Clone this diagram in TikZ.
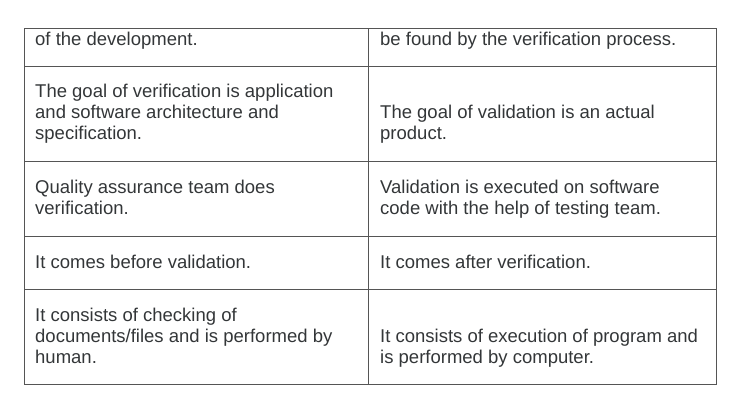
\documentclass[tikz,border=0pt]{standalone}
\usepackage{fontspec}
\setmainfont{Liberation Sans}
\definecolor{txt}{HTML}{333638}
\definecolor{rule}{HTML}{555555}
\begin{document}
\begin{tikzpicture}[x=1pt,y=-1pt,
  cell/.style={anchor=base west,inner sep=0pt,align=left,text=txt,font=\fontsize{18.5}{21}\selectfont},
  grid/.style={draw=rule,line width=1pt}]
\useasboundingbox (0,0) rectangle (752,402);
\draw[grid] (24,28.5) rectangle (716,384);
\draw[grid] (368,28.5) -- (368,384);
\foreach \y in {66,161,236,289} \draw[grid] (24,\y) -- (716,\y);
\node[cell] (a1) at (35,45) {of the development.};
\node[cell] (b1) at (380,45) {be found by the verification process.};
\node[cell] (a2) at (35,139.5) {The goal of verification is application\\and software architecture and\\specification.};
\node[cell] (b2) at (380,139.5) {The goal of validation is an actual\\product.};
\node[cell] (a3) at (35,214.5) {Quality assurance team does\\verification.};
\node[cell] (b3) at (380,214.5) {Validation is executed on software\\code with the help of testing team.};
\node[cell] (a4) at (35,268.5) {It comes before validation.};
\node[cell] (b4) at (380,268.5) {It comes after verification.};
\node[cell] (a5) at (35,363.5) {It consists of checking of\\documents/files and is performed by\\human.};
\node[cell] (b5) at (380,363.5) {It consists of execution of program and\\is performed by computer.};
\end{tikzpicture}
\end{document}
